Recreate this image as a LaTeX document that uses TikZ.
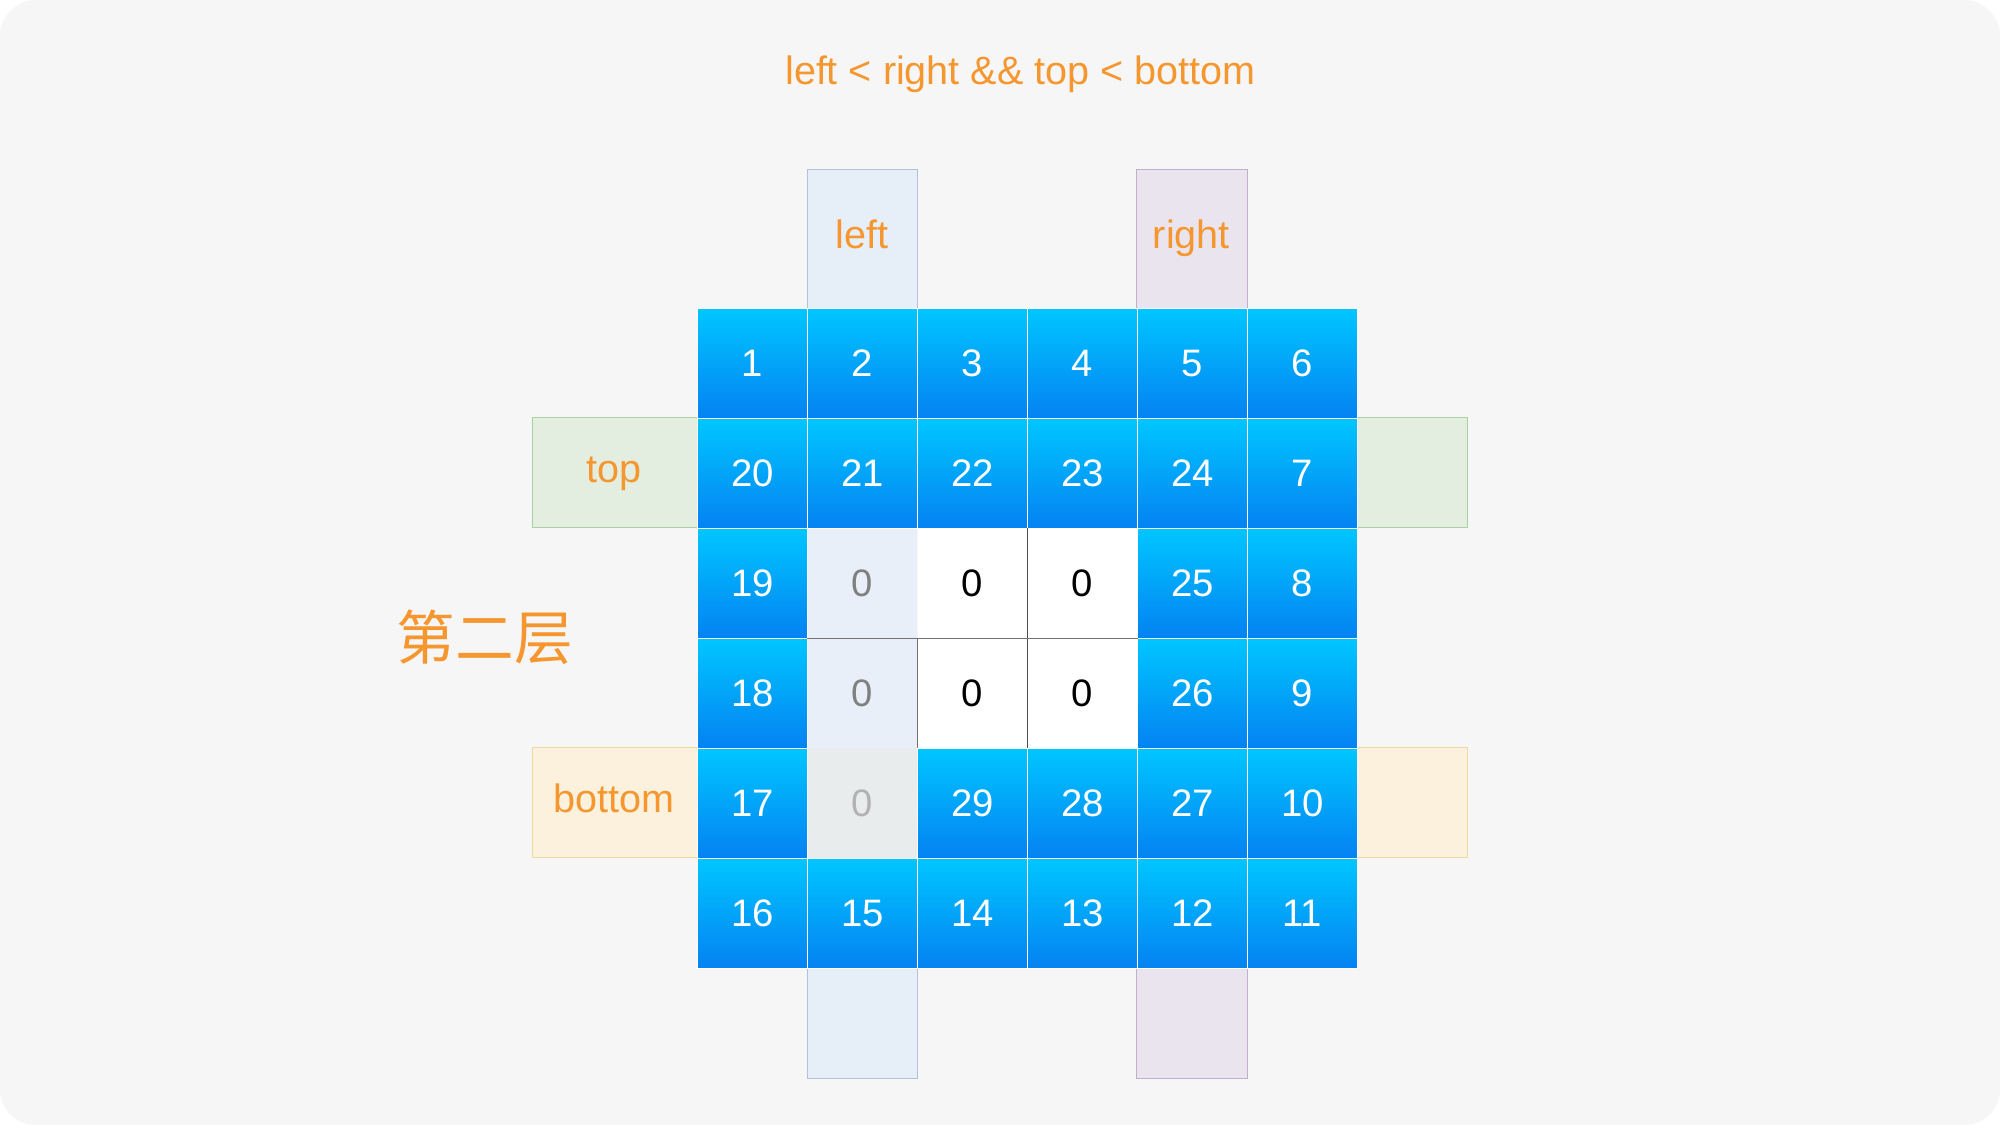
\documentclass[tikz,border=0pt]{standalone}
\usepackage{fontspec}
\setmainfont{Liberation Sans}
\newfontfamily\cjk{Noto Sans CJK SC}
\definecolor{org}{HTML}{F5962E}
\definecolor{ctop}{HTML}{00C6FF}
\definecolor{cbot}{HTML}{0482F2}
\begin{document}
\begin{tikzpicture}[x=1pt,y=-1pt,
 cell/.style={minimum width=86pt,minimum height=86pt,inner sep=0pt,draw=white,line width=0.8pt,
   top color=ctop,bottom color=cbot,text=white,font=\fontsize{30}{30}\selectfont},
 zcell/.style={minimum width=86pt,minimum height=86pt,inner sep=0pt,font=\fontsize{30}{30}\selectfont},
 lab/.style={text=org,font=\fontsize{31}{31}\selectfont,text height=22pt,text depth=6pt,inner sep=0pt}]
\useasboundingbox (0,0) rectangle (1568,882);
\fill[white] (0,0) rectangle (1568,882);
\fill[gray!7,rounded corners=28pt] (0,0) rectangle (1568,882);
\node[lab] (title) at (800,58) {left < right \&\& top < bottom};
% highlight bands
\draw[fill={rgb,255:red,230;green,238;blue,248},draw={rgb,255:red,176;green,192;blue,221}] (633,133) rectangle (719,242) (633,758) rectangle (719,845);
\draw[fill={rgb,255:red,234;green,228;blue,238},draw={rgb,255:red,192;green,176;blue,208}] (891,133) rectangle (978,242) (891,758) rectangle (978,845);
\draw[fill={rgb,255:red,227;green,238;blue,224},draw={rgb,255:red,168;green,208;blue,160}] (417,327) rectangle (547,413) (1063,327) rectangle (1150,413);
\draw[fill={rgb,255:red,251;green,241;blue,220},draw={rgb,255:red,238;green,217;blue,160}] (417,586) rectangle (547,672) (1063,586) rectangle (1150,672);
\node[lab] (lleft) at (676,187) {left};
\node[lab] (lright) at (934,187) {right};
\node[lab] (ltop) at (481,370) {top};
\node[lab] (lbot) at (481,629) {bottom};
\node[text=org,font=\cjk\fontsize{46}{46}\selectfont] (layer) at (380,500) {第二层};
% grid
\def\vals{{{1,2,3,4,5,6},{20,21,22,23,24,7},{19,-1,-2,-2,25,8},{18,-1,-2,-2,26,9},{17,-3,29,28,27,10},{16,15,14,13,12,11}}}
\foreach \r in {0,...,5}{\foreach \c in {0,...,5}{
 \pgfmathtruncatemacro\v{\vals[\r][\c]}
 \pgfmathsetmacro\xx{590+86.2*\c}\pgfmathsetmacro\yy{285+86.2*\r}
 \ifnum\v=-1
  \node[zcell,fill={rgb,255:red,232;green,239;blue,248},text=gray] (c\r\c) at (\xx,\yy) {0};
 \else\ifnum\v=-2
  \node[zcell,fill=white,text=black] (c\r\c) at (\xx,\yy) {0};
 \else\ifnum\v=-3
  \node[zcell,fill={rgb,255:red,232;green,236;blue,236},text=gray!60] (c\r\c) at (\xx,\yy) {0};
 \else
  \node[cell] (c\r\c) at (\xx,\yy) {\v};
 \fi\fi\fi
}}
\draw[black!70,line width=0.8pt] (c22.north east) -- (c32.south east);
\draw[black!55,line width=0.8pt] (c31.north west) -- (c33.north east);
\draw[black!55,line width=0.8pt] (c31.north east) -- (c31.south east);
\end{tikzpicture}
\end{document}
